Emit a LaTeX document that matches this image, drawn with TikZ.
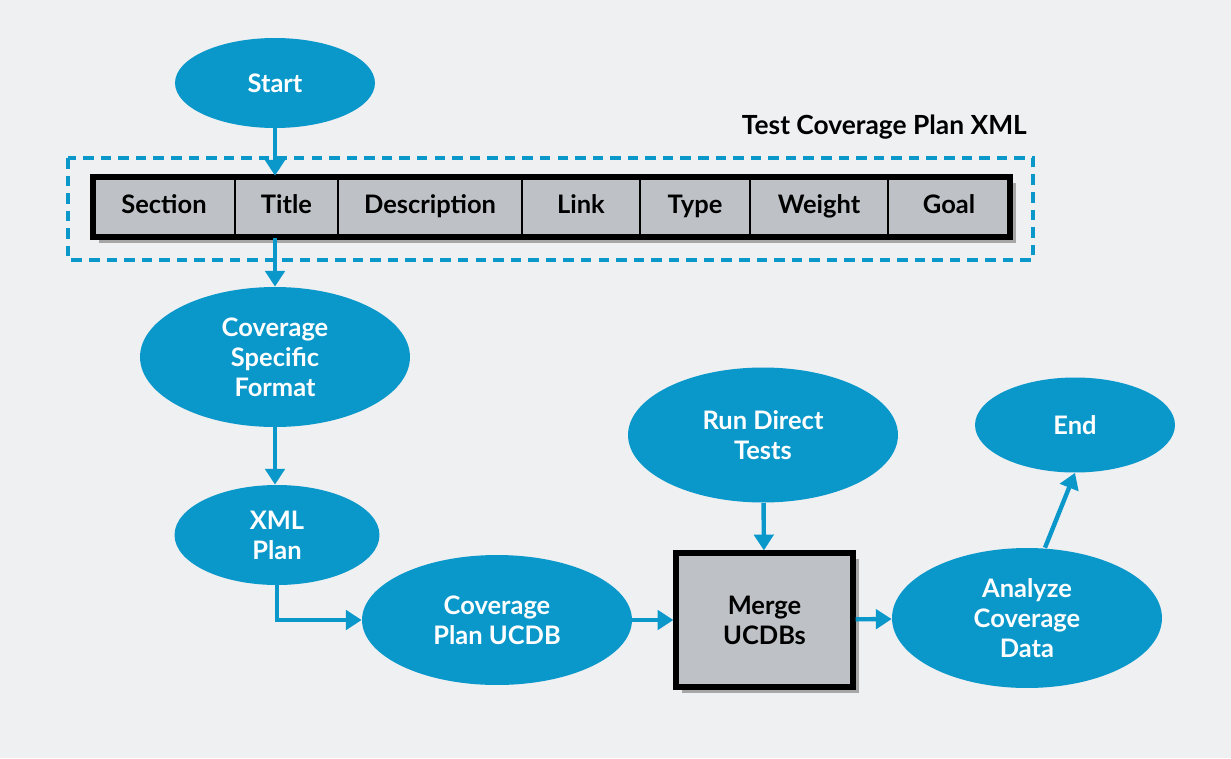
\documentclass[tikz,border=0pt]{standalone}
\usepackage{fontspec}
\setmainfont{Lato}
\usetikzlibrary{shapes.geometric,arrows.meta,positioning}
\definecolor{bg}{HTML}{EEF0F2}
\definecolor{blu}{HTML}{0A98CB}
\definecolor{cellgray}{HTML}{BEC2C7}
\tikzset{
  oval/.style={ellipse, fill=blu, text=white, font=\fontsize{14.5}{17}\selectfont\bfseries, align=center, inner sep=0pt},
  cell/.style={draw=black, line width=1.5pt, fill=cellgray, minimum height=1.2cm, inner sep=0pt, text height=2ex, text depth=.5ex, font=\fontsize{14.5}{17}\selectfont\bfseries},
  flow/.style={draw=blu, line width=2.5pt, -{Triangle[length=9pt,width=11pt]}}
}
\begin{document}
\begin{tikzpicture}[x=0.02cm, y=-0.02cm]
    % Background
    \fill[bg] (0,0) rectangle (1231,758);

    % Plan XML frame and its fields
    \draw[blu, line width=2pt, dash pattern=on 6pt off 4pt] (68,158) rectangle (1033,260);
    \node[anchor=south east, font=\fontsize{15}{17}\selectfont\bfseries] at (1033,145) {Test Coverage Plan XML};
    \fill[black!35] (99,183) rectangle (1016,243);
    \node[cell, minimum width=2.84cm] (sec) at (164,207) {Section};
    \node[cell, minimum width=2.06cm] (title) at (286.5,207) {Title};
    \node[cell, minimum width=3.68cm] (desc) at (430,207) {Description};
    \node[cell, minimum width=2.36cm] (link) at (581,207) {Link};
    \node[cell, minimum width=2.2cm] (type) at (695,207) {Type};
    \node[cell, minimum width=2.76cm] (wgt) at (819,207) {Weight};
    \node[cell, minimum width=2.44cm] (goal) at (949,207) {Goal};
    \draw[line width=3pt] (93,177) rectangle (1010,237);

    % Ellipses
    \node[oval, minimum width=4cm, minimum height=1.8cm] (start) at (275,83) {Start};
    \node[oval, minimum width=5.4cm, minimum height=2.8cm] (csf) at (275,357) {Coverage\\Specific\\Format};
    \node[oval, minimum width=4.1cm, minimum height=2cm] (xml) at (277,535) {XML\\Plan};
    \node[oval, minimum width=5.4cm, minimum height=2.6cm] (cpu) at (497,620) {Coverage\\Plan UCDB};
    \node[oval, minimum width=5.4cm, minimum height=2.7cm] (rdt) at (763,435) {Run Direct\\Tests};
    \node[oval, minimum width=5.4cm, minimum height=2.8cm] (acd) at (1027,618) {Analyze\\Coverage\\Data};
    \node[oval, minimum width=4cm, minimum height=1.9cm] (end) at (1075,425) {End};

    % Merge box
    \fill[black!35] (682,559) rectangle (859,693);
    \node[draw=black, line width=3pt, fill=cellgray, minimum width=3.54cm, minimum height=2.68cm,
          font=\fontsize{14.5}{17}\selectfont\bfseries, align=center] (merge) at (764.5,620) {Merge\\UCDBs};

    % Arrows
    \draw[flow] (start) -- (start |- title.north);
    \draw[flow] (start |- title.south) -- (csf);
    \draw[flow] (csf) -- (csf |- xml.north);
    \draw[flow] (xml.south) |- (cpu.west);
    \draw[flow] (cpu) -- (merge);
    \draw[flow] (rdt) -- (merge);
    \draw[flow] (merge) -- (acd);
    \draw[flow] (acd.north) ++(18,0) coordinate (a1) (a1) -- (end.south);
\end{tikzpicture}
\end{document}
